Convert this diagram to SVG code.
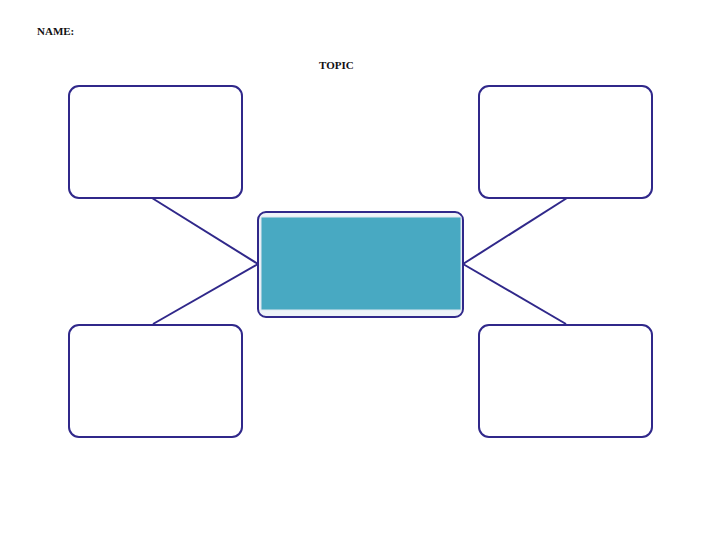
<svg xmlns="http://www.w3.org/2000/svg" width="728" height="551" viewBox="0 0 728 551">
<style>
.box{fill:#ffffff;stroke:#30288a;stroke-width:2}
.conn line{stroke:#30288a;stroke-width:2}
.lbl{font-family:"Liberation Serif",serif;font-weight:bold;font-size:11px;fill:#111}
</style>
<rect width="728" height="551" fill="#ffffff"/>
<text class="lbl" x="37" y="35">NAME:</text>
<text class="lbl" x="319" y="69">TOPIC</text>
<g class="conn" id="connectors">
<line x1="152" y1="198" x2="258" y2="264"/>
<line x1="153" y1="324" x2="258" y2="264"/>
<line x1="463" y1="264" x2="567" y2="198"/>
<line x1="463" y1="264" x2="566" y2="324"/>
</g>
<g id="box-tl"><rect class="box" x="69" y="86" width="173" height="112" rx="10"/></g>
<g id="box-tr"><rect class="box" x="479" y="86" width="173" height="112" rx="10"/></g>
<g id="box-bl"><rect class="box" x="69" y="325" width="173" height="112" rx="10"/></g>
<g id="box-br"><rect class="box" x="479" y="325" width="173" height="112" rx="10"/></g>
<g id="center">
<rect x="258" y="212" width="205" height="105" rx="8" fill="#eef3f8" stroke="#30288a" stroke-width="2"/>
<rect x="261" y="217" width="200" height="93" fill="#48a9c2" stroke="#dfe8f0" stroke-width="1"/>
</g>
</svg>
